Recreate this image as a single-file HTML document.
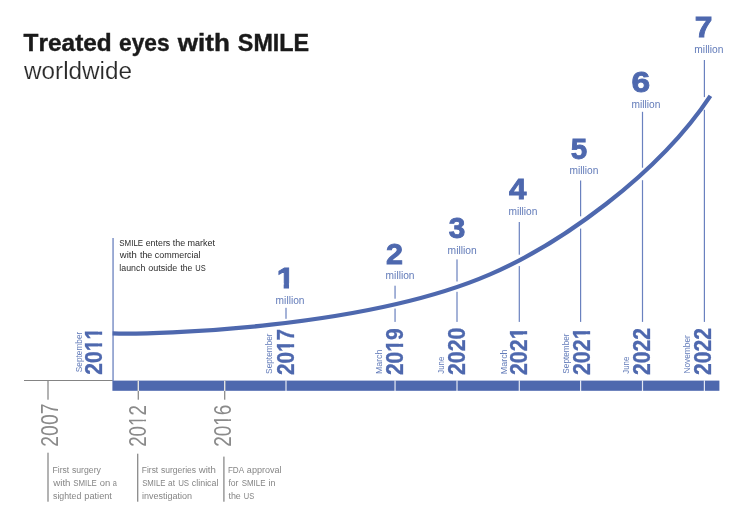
<!DOCTYPE html>
<html lang="en"><head><meta charset="utf-8"><title>Treated eyes with SMILE worldwide</title>
<style>
html,body{margin:0;padding:0;background:#fff;overflow:hidden;}
svg{display:block;}
text{font-family:"Liberation Sans",sans-serif;font-kerning:none;}
</style></head><body>
<svg width="750" height="520" viewBox="0 0 750 520">
<rect width="750" height="520" fill="#fff"/>
<text font-size="24.0" fill="#1a1a1a" font-weight="bold" stroke="#1a1a1a" stroke-width="0.4" stroke-linejoin="miter"><tspan x="23.63" y="50.55" textLength="88.08" lengthAdjust="spacingAndGlyphs">Treated</tspan> <tspan x="119.01" y="50.55" textLength="50.52" lengthAdjust="spacingAndGlyphs">eyes</tspan> <tspan x="177.88" y="50.55" textLength="52.04" lengthAdjust="spacingAndGlyphs">with</tspan> <tspan x="237.83" y="50.55" textLength="71.28" lengthAdjust="spacingAndGlyphs">SMILE</tspan></text>
<text transform="matrix(0.9878 0 0 1 24.04 78.80)" font-size="24.6" fill="#2a2a2a" stroke="#fff" stroke-width="0.15" paint-order="fill stroke">worldwide</text>
<rect x="24.00" y="380.00" width="89.00" height="1.00" fill="#848484"/>
<rect x="112.40" y="380.60" width="607.00" height="10.20" fill="#4e68ae"/>
<rect x="112.35" y="238.00" width="1.40" height="143.00" fill="#758bc4"/>
<rect x="47.35" y="380.40" width="1.30" height="19.30" fill="#8a8a8a"/>
<rect x="47.35" y="452.70" width="1.30" height="49.00" fill="#8a8a8a"/>
<text transform="matrix(0 -0.7847 1 0 57.76 446.68)" font-size="24.72" fill="#8a8a8a">2007</text>
<text font-size="9.7" fill="#858585"><tspan x="52.55" y="473.00" textLength="16.67" lengthAdjust="spacingAndGlyphs">First</tspan> <tspan x="71.91" y="473.00" textLength="28.96" lengthAdjust="spacingAndGlyphs">surgery</tspan>
<tspan x="53.26" y="486.00" textLength="17.21" lengthAdjust="spacingAndGlyphs">with</tspan> <tspan x="73.19" y="486.00" textLength="23.59" lengthAdjust="spacingAndGlyphs">SMILE</tspan> <tspan x="99.75" y="486.00" textLength="10.51" lengthAdjust="spacingAndGlyphs">on</tspan> <tspan x="112.64" y="486.00" textLength="4.11" lengthAdjust="spacingAndGlyphs">a</tspan>
<tspan x="53.01" y="498.90" textLength="28.31" lengthAdjust="spacingAndGlyphs">sighted</tspan> <tspan x="84.36" y="498.90" textLength="27.56" lengthAdjust="spacingAndGlyphs">patient</tspan></text>
<rect x="137.65" y="380.40" width="1.30" height="19.30" fill="#8a8a8a"/>
<rect x="137.05" y="453.70" width="1.30" height="48.00" fill="#8a8a8a"/>
<g transform="matrix(0 -0.7670 1 0 146.06 446.84)"><text font-size="24.43" fill="#8a8a8a">2012</text><rect x="27.53" y="-3.33" width="5.78" height="4.83" fill="#fff"/><rect x="35.48" y="-3.33" width="5.59" height="4.83" fill="#fff"/></g>
<text font-size="9.7" fill="#858585"><tspan x="141.86" y="473.00" textLength="16.35" lengthAdjust="spacingAndGlyphs">First</tspan> <tspan x="161.01" y="473.00" textLength="35.05" lengthAdjust="spacingAndGlyphs">surgeries</tspan> <tspan x="198.76" y="473.00" textLength="17.11" lengthAdjust="spacingAndGlyphs">with</tspan>
<tspan x="142.20" y="485.90" textLength="23.29" lengthAdjust="spacingAndGlyphs">SMILE</tspan> <tspan x="168.10" y="485.90" textLength="6.91" lengthAdjust="spacingAndGlyphs">at</tspan> <tspan x="178.14" y="485.90" textLength="10.97" lengthAdjust="spacingAndGlyphs">US</tspan> <tspan x="191.87" y="485.90" textLength="26.57" lengthAdjust="spacingAndGlyphs">clinical</tspan>
<tspan x="141.95" y="498.80" textLength="50.19" lengthAdjust="spacingAndGlyphs">investigation</tspan></text>
<rect x="224.05" y="380.40" width="1.30" height="19.30" fill="#8a8a8a"/>
<rect x="223.25" y="456.60" width="1.30" height="45.10" fill="#8a8a8a"/>
<g transform="matrix(0 -0.7734 1 0 231.16 446.86)"><text font-size="24.58" fill="#8a8a8a">2016</text><rect x="27.71" y="-3.34" width="5.81" height="4.84" fill="#fff"/><rect x="35.69" y="-3.34" width="5.62" height="4.84" fill="#fff"/></g>
<text font-size="9.7" fill="#858585"><tspan x="227.88" y="472.80" textLength="16.28" lengthAdjust="spacingAndGlyphs">FDA</tspan> <tspan x="246.86" y="472.80" textLength="34.79" lengthAdjust="spacingAndGlyphs">approval</tspan>
<tspan x="228.43" y="485.80" textLength="10.07" lengthAdjust="spacingAndGlyphs">for</tspan> <tspan x="241.69" y="485.80" textLength="23.80" lengthAdjust="spacingAndGlyphs">SMILE</tspan> <tspan x="268.55" y="485.80" textLength="6.98" lengthAdjust="spacingAndGlyphs">in</tspan>
<tspan x="228.41" y="498.70" textLength="12.43" lengthAdjust="spacingAndGlyphs">the</tspan> <tspan x="243.87" y="498.70" textLength="10.42" lengthAdjust="spacingAndGlyphs">US</tspan></text>
<rect x="137.70" y="380.40" width="1.20" height="10.60" fill="#fff" opacity="0.85"/>
<rect x="224.10" y="380.40" width="1.20" height="10.60" fill="#fff" opacity="0.85"/>
<text font-size="9.7" fill="#2b2b2b"><tspan x="119.29" y="245.55" textLength="23.80" lengthAdjust="spacingAndGlyphs">SMILE</tspan> <tspan x="145.67" y="245.55" textLength="24.60" lengthAdjust="spacingAndGlyphs">enters</tspan> <tspan x="172.71" y="245.55" textLength="12.43" lengthAdjust="spacingAndGlyphs">the</tspan> <tspan x="187.45" y="245.55" textLength="27.57" lengthAdjust="spacingAndGlyphs">market</tspan>
<tspan x="119.86" y="258.40" textLength="16.90" lengthAdjust="spacingAndGlyphs">with</tspan> <tspan x="139.91" y="258.40" textLength="12.43" lengthAdjust="spacingAndGlyphs">the</tspan> <tspan x="154.87" y="258.40" textLength="45.68" lengthAdjust="spacingAndGlyphs">commercial</tspan>
<tspan x="119.36" y="270.90" textLength="25.97" lengthAdjust="spacingAndGlyphs">launch</tspan> <tspan x="148.17" y="270.90" textLength="28.98" lengthAdjust="spacingAndGlyphs">outside</tspan> <tspan x="180.42" y="270.90" textLength="12.01" lengthAdjust="spacingAndGlyphs">the</tspan> <tspan x="195.37" y="270.90" textLength="10.42" lengthAdjust="spacingAndGlyphs">US</tspan></text>
<rect x="285.40" y="307.80" width="1.20" height="11.00" fill="#6a81bf"/>
<rect x="394.45" y="285.70" width="1.20" height="13.00" fill="#6a81bf"/>
<rect x="394.45" y="308.60" width="1.20" height="13.30" fill="#6a81bf"/>
<rect x="456.40" y="259.40" width="1.20" height="22.10" fill="#6a81bf"/>
<rect x="456.40" y="291.80" width="1.20" height="30.10" fill="#6a81bf"/>
<rect x="518.70" y="222.00" width="1.20" height="32.70" fill="#6a81bf"/>
<rect x="518.70" y="266.10" width="1.20" height="55.80" fill="#6a81bf"/>
<rect x="580.00" y="180.50" width="1.20" height="35.80" fill="#6a81bf"/>
<rect x="580.00" y="228.60" width="1.20" height="93.30" fill="#6a81bf"/>
<rect x="641.90" y="111.80" width="1.20" height="55.90" fill="#6a81bf"/>
<rect x="641.90" y="180.20" width="1.20" height="141.70" fill="#6a81bf"/>
<rect x="703.80" y="60.00" width="1.20" height="37.10" fill="#6a81bf"/>
<rect x="703.80" y="109.80" width="1.20" height="212.10" fill="#6a81bf"/>
<path d="M112.6,333.45 C156.71,334.78 365.17,328.47 490.02,274.41 C559.24,244.45 657.6,175.4 710.4,95.8" fill="none" stroke="#4e68ae" stroke-width="4.25"/>
<rect x="285.40" y="380.40" width="1.20" height="10.60" fill="#fff" opacity="0.85"/>
<g transform="matrix(0 -0.8586 1 0 294.11 375.07)"><text font-size="24.15" fill="#4e68ae" font-weight="bold" stroke="#4e68ae" stroke-width="0.3" stroke-linejoin="miter">2017</text><rect x="26.73" y="-4.11" width="5.62" height="5.76" fill="#fff"/><rect x="35.96" y="-4.11" width="5.31" height="5.76" fill="#fff"/></g>
<text transform="matrix(0 -0.8718 1 0 271.90 373.88)" font-size="9.5" fill="#627bb9">September</text>
<g transform="matrix(1.0627 0 0 1 276.66 288.25)"><text font-size="30.2" fill="#4e68ae" font-weight="bold" stroke="#4e68ae" stroke-width="0.9" stroke-linejoin="miter">1</text><rect x="-0.05" y="-5.03" width="6.65" height="6.98" fill="#fff"/><rect x="11.64" y="-5.03" width="6.26" height="6.98" fill="#fff"/></g>
<text transform="matrix(0.9284 0 0 1 275.62 303.90)" font-size="11.0" fill="#627bb9">million</text>
<rect x="394.45" y="380.40" width="1.20" height="10.60" fill="#fff" opacity="0.85"/>
<g transform="matrix(0 -0.8713 1 0 402.81 375.08)"><text font-size="24.15" fill="#4e68ae" font-weight="bold" stroke="#4e68ae" stroke-width="0.3" stroke-linejoin="miter">2019</text><rect x="26.73" y="-4.11" width="5.62" height="5.76" fill="#fff"/><rect x="35.96" y="-4.11" width="5.31" height="5.76" fill="#fff"/></g>
<text transform="matrix(0 -0.9241 1 0 381.70 374.02)" font-size="9.5" fill="#627bb9">March</text>
<text transform="matrix(1.0110 0 0 1 386.09 263.75)" font-size="30.2" fill="#4e68ae" font-weight="bold" stroke="#4e68ae" stroke-width="0.9" stroke-linejoin="miter">2</text>
<text transform="matrix(0.9284 0 0 1 385.62 279.40)" font-size="11.0" fill="#627bb9">million</text>
<rect x="456.40" y="380.40" width="1.20" height="10.60" fill="#fff" opacity="0.85"/>
<text transform="matrix(0 -0.8762 1 0 464.81 375.09)" font-size="24.43" fill="#4e68ae" font-weight="bold" stroke="#4e68ae" stroke-width="0.3" stroke-linejoin="miter">2020</text>
<text transform="matrix(0 -0.8288 1 0 443.70 373.72)" font-size="9.5" fill="#627bb9">June</text>
<text transform="matrix(0.9859 0 0 1 448.67 238.25)" font-size="30.2" fill="#4e68ae" font-weight="bold" stroke="#4e68ae" stroke-width="0.9" stroke-linejoin="miter">3</text>
<text transform="matrix(0.9385 0 0 1 447.61 253.90)" font-size="11.0" fill="#627bb9">million</text>
<rect x="518.70" y="380.40" width="1.20" height="10.60" fill="#fff" opacity="0.85"/>
<g transform="matrix(0 -0.9008 1 0 527.12 375.10)"><text font-size="23.87" fill="#4e68ae" font-weight="bold" stroke="#4e68ae" stroke-width="0.3" stroke-linejoin="miter">2021</text><rect x="39.68" y="-4.09" width="5.57" height="5.74" fill="#fff"/><rect x="48.82" y="-4.09" width="5.26" height="5.74" fill="#fff"/></g>
<text transform="matrix(0 -0.9361 1 0 506.80 374.13)" font-size="9.5" fill="#627bb9">March</text>
<text transform="matrix(1.0385 0 0 1 508.88 199.05)" font-size="30.2" fill="#4e68ae" font-weight="bold" stroke="#4e68ae" stroke-width="0.9" stroke-linejoin="miter">4</text>
<text transform="matrix(0.9284 0 0 1 508.42 214.70)" font-size="11.0" fill="#627bb9">million</text>
<rect x="580.00" y="380.40" width="1.20" height="10.60" fill="#fff" opacity="0.85"/>
<g transform="matrix(0 -0.8956 1 0 589.82 375.10)"><text font-size="24.01" fill="#4e68ae" font-weight="bold" stroke="#4e68ae" stroke-width="0.3" stroke-linejoin="miter">2021</text><rect x="39.92" y="-4.10" width="5.59" height="5.75" fill="#fff"/><rect x="49.11" y="-4.10" width="5.29" height="5.75" fill="#fff"/></g>
<text transform="matrix(0 -0.8675 1 0 568.70 373.67)" font-size="9.5" fill="#627bb9">September</text>
<text transform="matrix(0.9783 0 0 1 570.64 158.55)" font-size="30.2" fill="#4e68ae" font-weight="bold" stroke="#4e68ae" stroke-width="0.9" stroke-linejoin="miter">5</text>
<text transform="matrix(0.9284 0 0 1 569.42 174.20)" font-size="11.0" fill="#627bb9">million</text>
<rect x="641.90" y="380.40" width="1.20" height="10.60" fill="#fff" opacity="0.85"/>
<text transform="matrix(0 -0.8682 1 0 649.81 375.09)" font-size="24.43" fill="#4e68ae" font-weight="bold" stroke="#4e68ae" stroke-width="0.3" stroke-linejoin="miter">2022</text>
<text transform="matrix(0 -0.8288 1 0 628.70 373.72)" font-size="9.5" fill="#627bb9">June</text>
<text transform="matrix(1.1097 0 0 1 631.42 92.15)" font-size="30.2" fill="#4e68ae" font-weight="bold" stroke="#4e68ae" stroke-width="0.9" stroke-linejoin="miter">6</text>
<text transform="matrix(0.9284 0 0 1 631.42 107.80)" font-size="11.0" fill="#627bb9">million</text>
<rect x="703.80" y="380.40" width="1.20" height="10.60" fill="#fff" opacity="0.85"/>
<text transform="matrix(0 -0.8682 1 0 710.91 375.09)" font-size="24.43" fill="#4e68ae" font-weight="bold" stroke="#4e68ae" stroke-width="0.3" stroke-linejoin="miter">2022</text>
<text transform="matrix(0 -0.8768 1 0 689.50 373.58)" font-size="9.5" fill="#627bb9">November</text>
<text transform="matrix(1.0514 0 0 1 694.69 37.05)" font-size="30.2" fill="#4e68ae" font-weight="bold" stroke="#4e68ae" stroke-width="0.9" stroke-linejoin="miter">7</text>
<text transform="matrix(0.9318 0 0 1 694.32 52.70)" font-size="11.0" fill="#627bb9">million</text>
<g transform="matrix(0 -0.8872 1 0 102.32 374.68)"><text font-size="23.73" fill="#4e68ae" font-weight="bold" stroke="#4e68ae" stroke-width="0.3" stroke-linejoin="miter">2011</text><rect x="26.24" y="-4.07" width="5.54" height="5.72" fill="#fff"/><rect x="35.34" y="-4.07" width="5.24" height="5.72" fill="#fff"/><rect x="39.44" y="-4.07" width="5.54" height="5.72" fill="#fff"/><rect x="48.54" y="-4.07" width="5.24" height="5.72" fill="#fff"/></g>
<text transform="matrix(0 -0.8538 1 0 81.60 372.18)" font-size="9.7" fill="#627bb9">September</text>
</svg>
</body></html>
